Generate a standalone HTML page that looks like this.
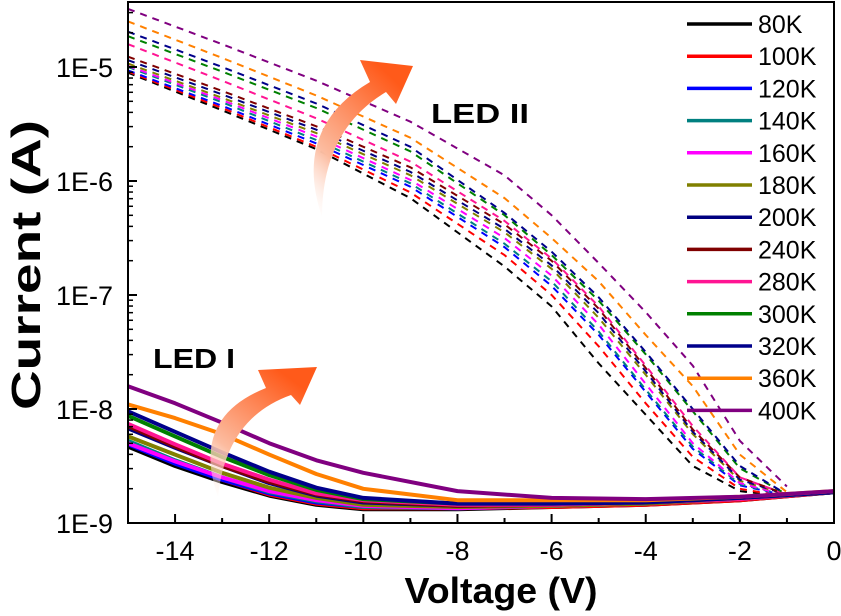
<!DOCTYPE html>
<html><head><meta charset="utf-8"><style>
body{margin:0;background:#fff}
svg text{font-family:"Liberation Sans",Arial,sans-serif}
</style></head><body>
<svg id="chart" width="841" height="611" xmlns="http://www.w3.org/2000/svg">
<defs>
<linearGradient id="g2" x1="0" y1="1" x2="0.6" y2="0"><stop offset="0" stop-color="#ffffff" stop-opacity="0.2"/><stop offset="0.35" stop-color="#fcbca0"/><stop offset="1" stop-color="#ff5a1a"/></linearGradient>
</defs>
<g id="plot"></g>
<path d="M322,217 Q292,128 370,82 L360,60 L413,66 L396,104 L386,92 Q322,130 322,217 Z" fill="url(#g2)"/>
<path d="M218,497 Q190,418 266,388 L258,370 L317,367 L300,405 L291,395 Q226,418 218,497 Z" fill="url(#g2)"/>
<text x="431" y="123" font-size="28" font-weight="bold" textLength="98" lengthAdjust="spacingAndGlyphs">LED II</text>
<text x="153" y="368" font-size="28" font-weight="bold" textLength="82" lengthAdjust="spacingAndGlyphs">LED I</text>
<text x="501" y="603" font-size="36" font-weight="bold" text-anchor="middle" textLength="193" lengthAdjust="spacingAndGlyphs">Voltage (V)</text>
<text transform="translate(40,265) rotate(-90)" font-size="41" font-weight="bold" text-anchor="middle" textLength="290" lengthAdjust="spacingAndGlyphs">Current (A)</text>
</svg>
<script>
const temps=["80K","100K","120K","140K","160K","180K","200K","240K","280K","300K","320K","360K","400K"];
const colors=["#000000","#ff0000","#0000ff","#008080","#ff00ff","#808000","#000080","#800000","#ff1493","#008000","#00008b","#ff8000","#800080"];
const v2=[-15,-13,-11,-9,-7,-6,-5,-4,-3,-2,-1];
const led2=[
[-5.05,-5.38,-5.72,-6.15,-6.75,-7.1,-7.6,-8.05,-8.5,-8.72,-8.77],
[-5.04,-5.36,-5.7,-6.1,-6.65,-7.0,-7.45,-7.95,-8.42,-8.7,-8.77],
[-5.03,-5.34,-5.67,-6.05,-6.58,-6.92,-7.35,-7.85,-8.35,-8.67,-8.76],
[-5.0,-5.31,-5.64,-6.02,-6.55,-6.88,-7.32,-7.83,-8.33,-8.66,-8.76],
[-4.99,-5.29,-5.61,-5.99,-6.5,-6.83,-7.26,-7.78,-8.3,-8.65,-8.76],
[-4.97,-5.27,-5.58,-5.95,-6.45,-6.77,-7.2,-7.7,-8.22,-8.63,-8.75],
[-4.94,-5.24,-5.55,-5.92,-6.42,-6.74,-7.16,-7.67,-8.2,-8.62,-8.75],
[-4.91,-5.21,-5.52,-5.88,-6.38,-6.7,-7.12,-7.64,-8.18,-8.6,-8.75],
[-4.8,-5.12,-5.45,-5.83,-6.35,-6.68,-7.1,-7.62,-8.15,-8.6,-8.75],
[-4.73,-5.04,-5.36,-5.74,-6.3,-6.65,-7.05,-7.52,-8.02,-8.52,-8.75],
[-4.69,-5.0,-5.32,-5.7,-6.28,-6.62,-7.02,-7.5,-8.0,-8.5,-8.75],
[-4.6,-4.92,-5.25,-5.62,-6.15,-6.5,-6.88,-7.35,-7.8,-8.4,-8.73],
[-4.49,-4.8,-5.12,-5.48,-5.95,-6.3,-6.72,-7.15,-7.62,-8.28,-8.68]];
const v1=[-15,-14,-13,-12,-11,-10,-8,-6,-4,-2,0];
const led1=[
[-8.33,-8.5,-8.64,-8.76,-8.84,-8.88,-8.88,-8.86,-8.84,-8.8,-8.73],
[-8.3,-8.47,-8.62,-8.75,-8.83,-8.87,-8.87,-8.86,-8.84,-8.8,-8.73],
[-8.31,-8.48,-8.62,-8.74,-8.82,-8.86,-8.87,-8.85,-8.83,-8.79,-8.73],
[-8.28,-8.45,-8.6,-8.73,-8.81,-8.86,-8.87,-8.85,-8.83,-8.79,-8.73],
[-8.3,-8.46,-8.6,-8.72,-8.8,-8.85,-8.87,-8.85,-8.83,-8.79,-8.73],
[-8.24,-8.4,-8.56,-8.69,-8.78,-8.84,-8.86,-8.85,-8.83,-8.79,-8.73],
[-8.17,-8.34,-8.5,-8.65,-8.76,-8.82,-8.85,-8.84,-8.82,-8.79,-8.73],
[-8.15,-8.33,-8.5,-8.64,-8.75,-8.81,-8.85,-8.84,-8.82,-8.79,-8.73],
[-8.13,-8.31,-8.48,-8.62,-8.74,-8.8,-8.84,-8.84,-8.82,-8.79,-8.73],
[-8.06,-8.24,-8.42,-8.58,-8.71,-8.79,-8.83,-8.83,-8.82,-8.78,-8.73],
[-8.02,-8.2,-8.38,-8.55,-8.69,-8.78,-8.83,-8.83,-8.82,-8.78,-8.73],
[-7.96,-8.08,-8.22,-8.4,-8.57,-8.7,-8.8,-8.8,-8.8,-8.77,-8.72],
[-7.8,-7.95,-8.12,-8.3,-8.45,-8.56,-8.72,-8.78,-8.79,-8.77,-8.72]];
const xTicks=[-14,-12,-10,-8,-6,-4,-2,0];
const yTicks=[-9,-8,-7,-6,-5];
const NS="http://www.w3.org/2000/svg";
const L=128,R=834,T=2,B=523;
function X(v){return L+(v+15)*(R-L)/15;}
function Y(lg){return B-(lg+9)*114;}
const g=document.getElementById('plot');
function mk(t,a){const e=document.createElementNS(NS,t);for(const k in a)e.setAttribute(k,a[k]);g.appendChild(e);return e;}
function pts(vs,ys){return vs.map((v,i)=>X(v).toFixed(1)+','+Y(ys[i]).toFixed(1)).join(' ');}
for(let i=0;i<temps.length;i++){
 const p=mk('polyline',{points:pts(v2,led2[i]),fill:'none',stroke:colors[i],'stroke-width':2,'stroke-dasharray':'7 6'});
 
 
}
for(let i=0;i<temps.length;i++){
 const p=mk('polyline',{points:pts(v1,led1[i]),fill:'none',stroke:colors[i],'stroke-width':4,'stroke-linejoin':'round'});
 
 
}
const frame=mk('rect',{x:L,y:T,width:R-L,height:B-T,fill:'none',stroke:'#000','stroke-width':2});


for(let v=-15;v<=0;v++){
 const major=xTicks.includes(v);
 const t=mk('line',{x1:X(v),x2:X(v),y1:B,y2:B-(major?9:5),stroke:'#000','stroke-width':2});
 
 
}
xTicks.forEach(v=>{
 const t=mk('text',{x:X(v),y:560,'font-size':27,'text-anchor':'middle'});t.textContent=v;
 
 
});
yTicks.forEach(d=>{
 const t=mk('line',{x1:L,x2:L+9,y1:Y(d),y2:Y(d),stroke:'#000','stroke-width':2});
 
 
 for(let m=2;m<=9;m++){
  const yy=Y(d+Math.log10(m));if(yy<T)break;
  const mm=mk('line',{x1:L,x2:L+5,y1:yy,y2:yy,stroke:'#000','stroke-width':1.5});
  
  
 }
 const lb=mk('text',{x:113,y:Y(d)+10,'font-size':27,'text-anchor':'end'});lb.textContent='1E'+d;
 
 
});
temps.forEach((tp,i)=>{
 const y=24+i*32.2;
 const ln=mk('line',{x1:687,x2:752,y1:y,y2:y,stroke:colors[i],'stroke-width':3.5});
 
 
 const tx=mk('text',{x:758,y:y+9,'font-size':25});tx.textContent=tp;
 
 
});
</script>
</body></html>
